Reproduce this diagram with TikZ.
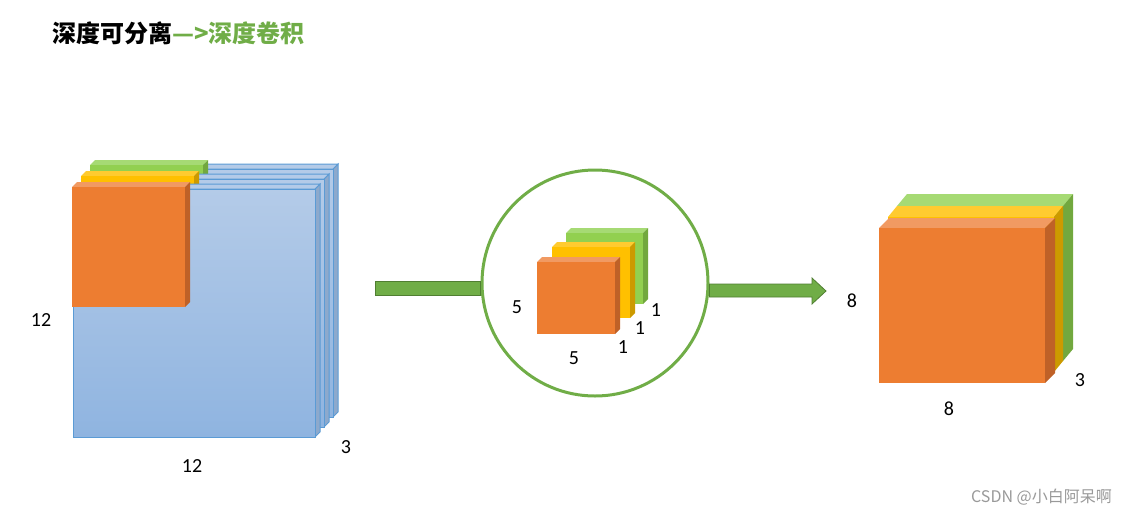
\documentclass[tikz,border=0pt]{standalone}
\usepackage{fontspec}
\setmainfont{Carlito}
\newfontfamily\cjk{Noto Sans CJK SC}
\definecolor{gr}{HTML}{70AD47}
\definecolor{grd}{HTML}{507E32}
\definecolor{orF}{HTML}{ED7D31}\definecolor{orT}{HTML}{F19A62}\definecolor{orS}{HTML}{BF6127}
\definecolor{yeF}{HTML}{FFC000}\definecolor{yeT}{HTML}{FFCB30}\definecolor{yeS}{HTML}{CC9A00}
\definecolor{gnF}{HTML}{92D050}\definecolor{gnT}{HTML}{A6DA74}\definecolor{gnS}{HTML}{72A83E}
\definecolor{blT}{HTML}{B4CBE8}\definecolor{blB}{HTML}{8FB4E0}\definecolor{blE}{HTML}{5B9BD5}\definecolor{blS}{HTML}{8DA9CC}
% x y w h dx dy front top side
\newcommand{\slab}[9]{%
 \fill[#8] (#1,#2) -- ++(#5,-#6) -- ++(#3,0) -- ++(-#5,#6) -- cycle;
 \fill[#9] (#1+#3,#2) -- ++(#5,-#6) -- ++(0,#4) -- ++(-#5,#6) -- cycle;
 \fill[#7] (#1,#2) rectangle ++(#3,#4);}
\newcommand{\bslab}[2]{%
 \filldraw[blS,draw=blE,line width=1pt] (#1+242,#2) -- ++(5,-5) -- ++(0,248) -- ++(-5,5) -- cycle;
 \filldraw[blT,draw=blE,line width=1pt] (#1,#2) -- ++(5,-5) -- ++(242,0) -- ++(-5,5) -- cycle;
 \shade[top color=blT,bottom color=blB] (#1,#2) rectangle ++(242,248);
 \draw[blE,line width=1pt] (#1,#2) rectangle ++(242,248);}
\tikzset{num/.style={font=\fontsize{20}{22}\selectfont,inner sep=0pt}}
\begin{document}
\begin{tikzpicture}[x=1pt,y=-1pt]
\useasboundingbox (0,0) rectangle (1126,517);
\node[anchor=west,inner sep=0pt,font=\cjk\bfseries\fontsize{24}{26}\selectfont] (title) at (52,33) {深度可分离\textcolor{gr}{—>深度卷积}};
% left stack
\bslab{91}{169}
\slab{90}{165}{113}{120}{5}{5}{gnF}{gnT}{gnS}
\bslab{82}{179}
\slab{81}{176}{113}{120}{5}{5}{yeF}{yeT}{yeS}
\bslab{73}{189}
\slab{72}{187}{113}{120}{5}{5}{orF}{orT}{orS}
\node[num] (l12a) at (41,320) {12};
\node[num] (l12b) at (192,466) {12};
\node[num] (l3) at (346,447) {3};
% circle
\node[draw=gr,line width=3pt,circle,minimum size=226pt,inner sep=0pt] (circ) at (595,283) {};
\slab{566}{233}{77}{71}{5}{5}{gnF}{gnT}{gnS}
\slab{552}{247}{78}{71}{5}{5}{yeF}{yeT}{yeS}
\slab{537}{262}{78}{72}{5}{5}{orF}{orT}{orS}
\node[num] (m5a) at (517,307) {5};
\node[num] (m5b) at (574,358) {5};
\node[num] (m1a) at (623,347) {1};
\node[num] (m1b) at (640,328) {1};
\node[num] (m1c) at (656,310) {1};
% arrows
\coordinate (a1) at (375,288);
\filldraw[fill=gr,draw=grd,line width=0.8pt] (a1) ++(0,-7) rectangle (circ.west |- 0,295);
\coordinate (a2) at (826,291);
\filldraw[fill=gr,draw=grd,line width=0.8pt] (circ.east |- 0,284) -- (812,284) -- (812,278) -- (a2) -- (812,304) -- (812,297) -- (circ.east |- 0,297) -- cycle;
% right cube
\slab{897}{206}{166}{155}{10}{12}{gnF}{gnT}{gnS}
\slab{888}{217}{166}{155}{9}{11}{yeF}{yeT}{yeS}
\slab{879}{228}{166}{155}{10}{10}{orF}{orT}{orS}
\node[num] (r8a) at (852,301) {8};
\node[num] (r8b) at (949,409) {8};
\node[num] (r3) at (1080,380) {3};
\node[anchor=east,inner sep=0pt,text=black!40,font=\cjk\fontsize{16}{18}\selectfont] (wm) at (1112,497) {CSDN @小白阿呆啊};
\end{tikzpicture}
\end{document}
